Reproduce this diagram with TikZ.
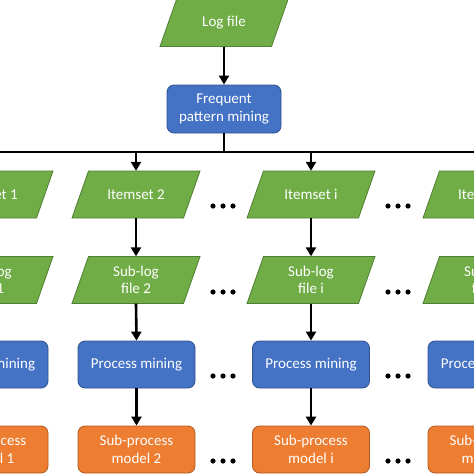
\documentclass[tikz,border=0pt]{standalone}
\usepackage{fontspec}
\setmainfont{Carlito}
\usetikzlibrary{arrows.meta}
\definecolor{pgreen}{HTML}{70AD47}
\definecolor{pgreenb}{HTML}{507E32}
\definecolor{pblue}{HTML}{4472C4}
\definecolor{pblueb}{HTML}{2F528F}
\definecolor{porange}{HTML}{ED7D31}
\definecolor{porangeb}{HTML}{AE5A21}
\tikzset{
  pshape/.style={fill=pgreen, draw=pgreenb, line width=0.8pt},
  ptext/.style={inner sep=0pt, minimum width=111pt, minimum height=47pt, text=white, align=center,
    font=\fontsize{15}{17.5}\selectfont},
  bluebox/.style={rectangle, rounded corners=7pt, fill=pblue, draw=pblueb, line width=0.8pt,
    inner sep=0pt, minimum width=117pt, minimum height=47pt, text=white, align=center,
    font=\fontsize{15}{17.5}\selectfont},
  orangebox/.style={bluebox, fill=porange, draw=porangeb},
  conn/.style={line width=2.6pt, -{Triangle[width=10pt,length=9pt]}},
  busline/.style={line width=2.6pt},
  dotmark/.style={fill=black}
}
\newcommand{\pnode}[4]{%
  \filldraw[pshape] (#2-64,#3+23.5) -- (#2+47.5,#3+23.5) -- (#2+64,#3-23.5) -- (#2-47.5,#3-23.5) -- cycle;
  \node[ptext] (#1) at (#2,#3) {#4};}
\newcommand{\dotsrow}[2]{%
  \fill[dotmark] (#1-10,#2) circle (2.6) (#1,#2) circle (2.6) (#1+10,#2) circle (2.6);}
\begin{document}
\begin{tikzpicture}[x=1pt,y=-1pt]
\useasboundingbox (0,0) rectangle (474,474);
\clip (0,0) rectangle (474,474);
% top
\pnode{log}{224}{23}{Log file}
\node[bluebox, minimum width=114pt, minimum height=48pt] (fpm) at (224,109) {Frequent\\pattern mining};
\draw[conn] (log.south) -- (fpm.north);
% bus
\coordinate (b0) at (224,152);
\coordinate (b1) at (-11,152);
\coordinate (b2) at (136,152);
\coordinate (b3) at (311,152);
\coordinate (b4) at (487,152);
\draw[busline] (fpm.south) -- (b0);
\draw[busline] ([xshift=-20pt]b1) -- ([xshift=20pt]b4);
% columns
\pnode{it1}{-11}{194.5}{Itemset 1}
\pnode{it2}{136}{194.5}{Itemset 2}
\pnode{it3}{311}{194.5}{Itemset i}
\pnode{it4}{487}{194.5}{Itemset n}
\pnode{sl1}{-11}{280}{Sub-log\\file 1}
\pnode{sl2}{136}{280}{Sub-log\\file 2}
\pnode{sl3}{311}{280}{Sub-log\\file i}
\pnode{sl4}{487}{280}{Sub-log\\file n}
\node[bluebox] (pm1) at (-10.5,364.5) {Process mining};
\node[bluebox] (pm2) at (136.5,364.5) {Process mining};
\node[bluebox] (pm3) at (311,364.5) {Process mining};
\node[bluebox] (pm4) at (486.5,364.5) {Process mining};
\node[orangebox] (sp1) at (-10.5,449.5) {Sub-process\\model 1};
\node[orangebox] (sp2) at (136.5,449.5) {Sub-process\\model 2};
\node[orangebox] (sp3) at (311,449.5) {Sub-process\\model i};
\node[orangebox] (sp4) at (486.5,449.5) {Sub-process\\model n};
\foreach \i in {1,2,3,4}{
  \draw[conn] (b\i) -- (it\i.north);
  \draw[conn] (it\i.south) -- (sl\i.north);
  \draw[conn] (sl\i.south) -- (pm\i.north);
  \draw[conn] (pm\i.south) -- (sp\i.north);
}
% dots
\foreach \x in {223,398}{
  \dotsrow{\x}{206}
  \dotsrow{\x}{292}
  \dotsrow{\x}{376}
  \dotsrow{\x}{461}
}
\end{tikzpicture}
\end{document}
